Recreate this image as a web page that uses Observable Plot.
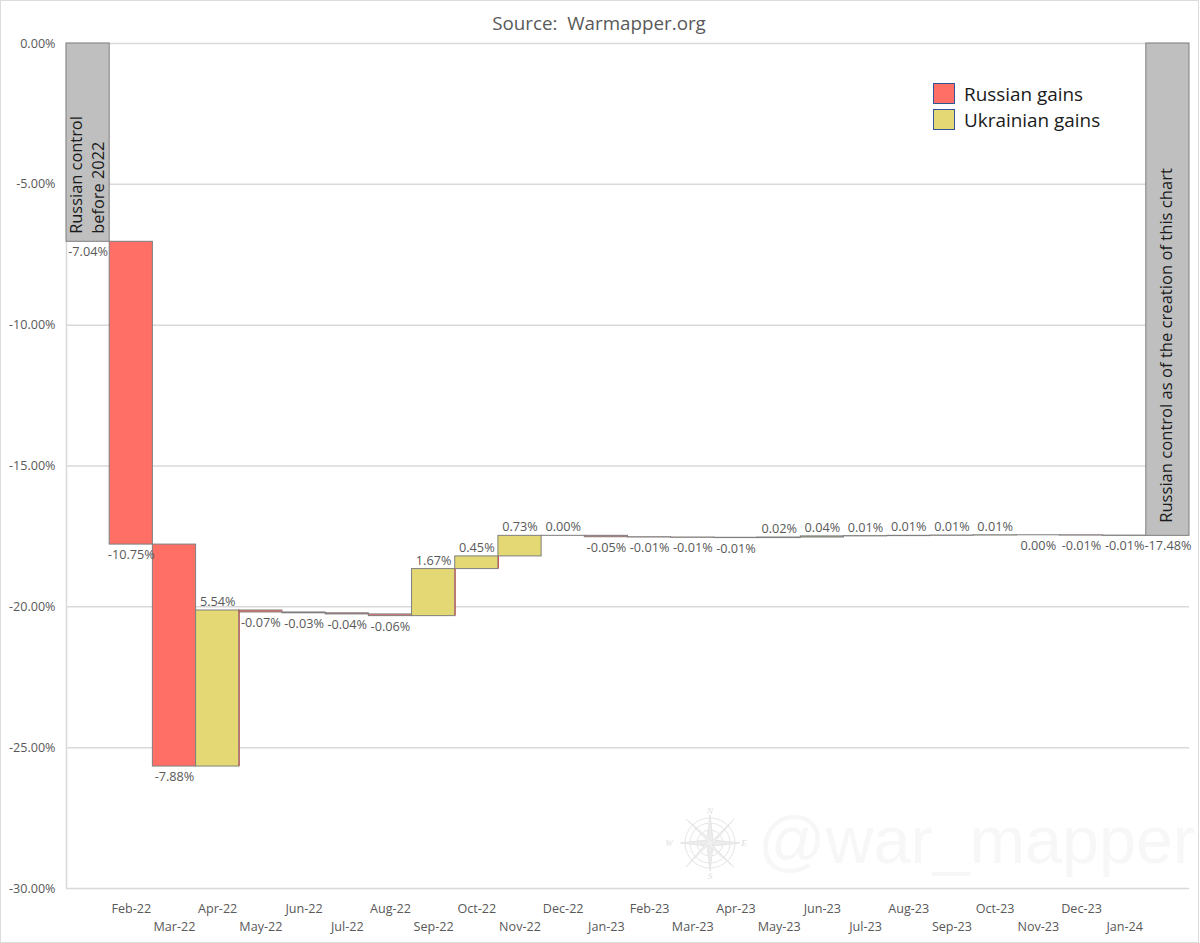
<!DOCTYPE html>
<html>
<head>
<meta charset="utf-8">
<script src="https://cdn.jsdelivr.net/npm/d3@7"></script>
<script src="https://cdn.jsdelivr.net/npm/@observablehq/plot@0.6"></script>
<style>
html,body{margin:0;padding:0;background:#fff;overflow:hidden}
#wrap{position:relative;width:1200px;height:943px;font-family:"Open Sans",sans-serif}
#frame{position:absolute;left:0;top:0;width:1197px;height:941px;border:1px solid #dcdcdc;box-sizing:content-box;pointer-events:none}
#title{height:30px;box-sizing:border-box;padding-top:9px;text-align:center;font-size:18.8px;line-height:28px;color:#595959;white-space:pre;width:1198px}
svg{display:block}
#legend{position:absolute;left:933px;top:81px;font-size:18.9px;line-height:26px;color:#1a1a1a}
#legend div{position:relative;height:26px;padding-left:31px;white-space:nowrap}
#legend i{position:absolute;left:0;top:2px;width:20px;height:19px;border:1.5px solid #2f5597;box-sizing:content-box}
#mark{position:absolute;left:758px;top:795px;font:66.5px "Liberation Sans",sans-serif;color:#f7f7f7;line-height:90px;white-space:nowrap}
#rose{position:absolute;left:664px;top:805px}
</style>
</head>
<body>
<div id="wrap">
  <div id="title">Source:  Warmapper.org</div>
  <div id="chart"></div>
  <div id="mark">@war_mapper</div>
  <svg id="rose" width="92" height="76" viewBox="0 0 92 76" fill="none" stroke="#e6e6e6">
    <circle cx="46" cy="38" r="25"/><circle cx="46" cy="38" r="20"/><circle cx="46" cy="38" r="13"/><circle cx="46" cy="38" r="2" stroke-width="2"/>
    <path d="M46 10L49 35L76 38L49 41L46 66L43 41L16 38L43 35Z" fill="#ececec"/>
    <path d="M22 14L48 36L70 14L48 40L70 62L44 40L22 62L44 36Z" fill="#f0f0f0"/>
    <g fill="#dedede" stroke="none" font-size="9" font-style="italic" font-family="Liberation Serif" text-anchor="middle">
      <text x="46" y="9">N</text><text x="46" y="74">S</text><text x="5" y="41">W</text><text x="80" y="41">E</text>
    </g>
  </svg>
  <div id="legend"></div>
  <div id="frame"></div>
</div>
<script>
const months = ["Feb-22","Mar-22","Apr-22","May-22","Jun-22","Jul-22","Aug-22","Sep-22","Oct-22","Nov-22","Dec-22","Jan-23","Feb-23","Mar-23","Apr-23","May-23","Jun-23","Jul-23","Aug-23","Sep-23","Oct-23","Nov-23","Dec-23","Jan-24"];
const changes = [-10.75,-7.88,5.54,-0.07,-0.03,-0.04,-0.06,1.67,0.45,0.73,0.001,-0.05,-0.01,-0.01,-0.01,0.02,0.04,0.01,0.01,0.01,0.01,-0.001,-0.01,-0.01];
const startValue = -7.04;
const endValue = -17.48;
const yTicks = [0,-5,-10,-15,-20,-25,-30];
const startKey = "before", endKey = "current";
const startNote = "Russian control\nbefore 2022";
const endNote = "Russian control as of the creation of this chart";
const legendItems = ["Russian gains","Ukrainian gains"];
const redEdged = ["Apr-22","Sep-22","Oct-22"];
const kinds = ["total", ...legendItems];
const kindColors = ["#bfbfbf","#ff6f66","#e3d873"];

const pct = d => d3.format(".2f")(d).replace("\u2212","-") + "%";
const running = Array.from(d3.cumsum([startValue, ...changes]));
const steps = months.map((m,i) => ({
  x: m, y1: running[i], y2: running[i+1], value: changes[i],
  kind: changes[i] < 0 ? legendItems[0] : legendItems[1]
}));
const totals = [
  {x: startKey, y1: 0, y2: startValue, value: startValue, kind: "total"},
  {x: endKey, y1: 0, y2: endValue, value: endValue, kind: "total"}
];
const rows = [totals[0], ...steps, totals[1]];
const below = rows.filter(d => d.value < 0);
const above = rows.filter(d => d.value >= 0);
const domain = [startKey, ...months, endKey];
const labelFont = {fontSize: 12.7, fill: "#595959"};

const chart = Plot.plot({
  width: 1200, height: 913,
  marginTop: 13, marginBottom: 55, marginLeft: 66, marginRight: 11,
  style: {fontFamily: '"Open Sans",sans-serif', background: "transparent"},
  x: {type: "band", domain, padding: 0, round: false, axis: null},
  y: {domain: [-30, 0], axis: null},
  color: {domain: kinds, range: kindColors},
  marks: [
    Plot.ruleY(yTicks, {stroke: "#d9d9d9", strokeWidth: 1.5}),
    Plot.frame({anchor: "left", stroke: "#d9d9d9", strokeWidth: 1.5}),
    Plot.barY(rows, {x: "x", y1: "y1", y2: "y2", fill: "kind", stroke: "#7f7f7f", strokeWidth: 1, inset: 0}),
    Plot.ruleX(steps.filter(d => redEdged.includes(d.x)), {x: "x", y1: "y1", y2: "y2", dx: 21.6, stroke: "#c0504d", strokeWidth: 1}),
    Plot.text(below, {x: "x", y: d => Math.min(d.y1, d.y2), text: d => pct(d.value), dy: 10.5, ...labelFont}),
    Plot.text(above, {x: "x", y: d => Math.max(d.y1, d.y2), text: d => pct(d.value), dy: -8.5, ...labelFont}),
    Plot.text([startNote], {x: () => startKey, y: () => startValue, text: d => d, rotate: -90, textAnchor: "start", dx: -2, dy: -8, fontSize: 16.4, fill: "#1a1a1a", lineHeight: 1.33}),
    Plot.text([endNote], {x: () => endKey, y: () => endValue, text: d => d, rotate: -90, textAnchor: "start", dx: -1, dy: -13, fontSize: 16.6, fill: "#1a1a1a"}),
    Plot.axisX({ticks: months.filter((m,i) => i % 2 === 0), tickSize: 0, tickPadding: 15.5, label: null, fontSize: 12.6, color: "#595959", lineAnchor: "top"}),
    Plot.axisX({ticks: months.filter((m,i) => i % 2 === 1), tickSize: 0, tickPadding: 33.5, label: null, fontSize: 12.6, color: "#595959", lineAnchor: "top"}),
    Plot.axisY({ticks: yTicks, tickFormat: pct, tickSize: 0, tickPadding: 11, label: null, fontSize: 12.6, color: "#595959"})
  ]
});
document.getElementById("chart").append(chart);

const legend = document.getElementById("legend");
legendItems.forEach((name,i) => {
  const row = document.createElement("div");
  const sw = document.createElement("i");
  sw.style.background = kindColors[i+1];
  row.append(sw, name);
  legend.append(row);
});
</script>
</body>
</html>
